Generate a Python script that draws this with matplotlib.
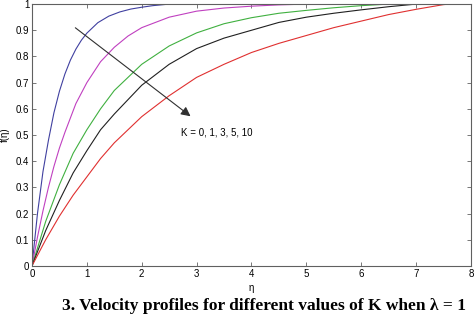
import numpy as np
import matplotlib
matplotlib.use("Agg")
import matplotlib.pyplot as plt

plt.rcParams['font.family'] = ['Liberation Sans', 'DejaVu Sans']

# velocity profiles f(eta), one curve per K
eta_k0 = [0, 0.05, 0.1, 0.15, 0.2, 0.3, 0.4, 0.5, 0.6, 0.7, 0.8, 0.9, 1.0,
          1.2, 1.4, 1.6, 1.8, 2.0, 2.2, 2.5]
f_k0 = [0, 0.10, 0.20, 0.28, 0.36, 0.48, 0.585, 0.667, 0.733, 0.786, 0.828, 0.862, 0.889,
        0.929, 0.954, 0.970, 0.981, 0.988, 0.994, 1.0]

eta_k1 = [0, 0.1, 0.2, 0.3, 0.4, 0.5, 0.6, 0.8, 1.0, 1.25, 1.5, 1.75, 2.0,
          2.5, 3.0, 3.5, 4.0, 4.5, 5.0]
f_k1 = [0, 0.11, 0.21, 0.30, 0.38, 0.45, 0.51, 0.62, 0.70, 0.78, 0.835, 0.878, 0.91,
        0.95, 0.973, 0.985, 0.992, 0.997, 1.0]

eta_k3 = [0, 0.25, 0.5, 0.75, 1.0, 1.25, 1.5, 2.0, 2.5, 3.0, 3.5, 4.0, 4.5, 5.0,
          5.5, 6.0, 6.5]
f_k3 = [0, 0.17, 0.31, 0.43, 0.52, 0.60, 0.67, 0.77, 0.84, 0.89, 0.925, 0.948, 0.965, 0.976,
        0.986, 0.994, 1.0]

eta_k5 = [0, 0.25, 0.5, 0.75, 1.0, 1.25, 1.5, 2.0, 2.5, 3.0, 3.5, 4.0, 4.5, 5.0,
          5.5, 6.0, 6.5, 7.0]
f_k5 = [0, 0.135, 0.25, 0.355, 0.44, 0.52, 0.58, 0.69, 0.77, 0.83, 0.87, 0.90, 0.93, 0.95,
        0.965, 0.978, 0.99, 1.0]

eta_k10 = [0, 0.25, 0.5, 0.75, 1.0, 1.25, 1.5, 2.0, 2.5, 3.0, 3.5, 4.0, 4.5, 5.0,
           5.5, 6.0, 6.5, 7.0, 7.5, 7.6]
f_k10 = [0, 0.10, 0.19, 0.27, 0.34, 0.41, 0.47, 0.57, 0.65, 0.72, 0.77, 0.815, 0.85, 0.88,
         0.91, 0.935, 0.96, 0.98, 0.998, 1.0]

fig = plt.figure(figsize=(4.74, 3.15), dpi=100)
ax = fig.add_axes([0.0675, 0.156, 0.926, 0.831])

ax.plot(eta_k0, f_k0, color='#4040a0', lw=0.8)
ax.plot(eta_k1, f_k1, color='#c040c0', lw=0.8)
ax.plot(eta_k3, f_k3, color='#40b040', lw=0.8)
ax.plot(eta_k5, f_k5, color='#202020', lw=0.8)
ax.plot(eta_k10, f_k10, color='#e03030', lw=0.8)

# arrow showing increasing K
ax.annotate('', xy=(2.93, 0.565), xytext=(0.75, 0.916),
            arrowprops=dict(arrowstyle='-|>', color='#303030', lw=0.8,
                            mutation_scale=14))
ax.text(2.72, 0.51, 'K = 0, 1, 3, 5, 10', fontsize=7, va='center')

ax.set_xlim(0, 8)
ax.set_ylim(0, 1)
ax.set_xticks(np.arange(0, 9, 1))
ax.set_yticks(np.arange(0, 1.01, 0.1))
ax.set_yticklabels(['0', '0.1', '0.2', '0.3', '0.4', '0.5', '0.6', '0.7', '0.8', '0.9', '1'])
ax.tick_params(direction='in', top=True, right=True, labelsize=7, length=3,
               width=0.6, color='#606060', pad=2)
for s in ax.spines.values():
    s.set_color('#606060')
    s.set_linewidth(0.8)

ax.set_xlabel('η', fontsize=7, labelpad=3)
ax.set_ylabel('f(η)', fontsize=7, labelpad=4)

fig.text(0.131, 0.003, '3. Velocity profiles for different values of K when λ = 1',
         fontsize=12.5, fontweight='bold', family=['Liberation Serif', 'DejaVu Serif'],
         va='bottom', ha='left')

fig.savefig('out.png', dpi=100)
